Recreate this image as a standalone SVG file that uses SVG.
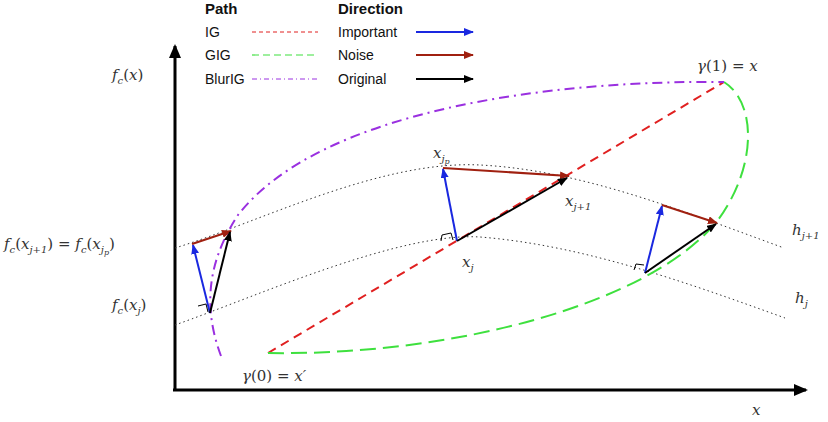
<svg xmlns="http://www.w3.org/2000/svg" width="828" height="422" viewBox="0 0 828 422">
<style>
.lg{font-family:"Liberation Sans",Arial,sans-serif;font-size:14px;fill:#111}
.lgb{font-family:"Liberation Sans",Arial,sans-serif;font-size:15px;font-weight:bold;fill:#111}
.m{font-family:"DejaVu Serif","Liberation Serif",serif;font-style:italic;font-size:15px;fill:#333}
.ms{font-family:"DejaVu Serif","Liberation Serif",serif;font-style:italic;font-size:10px;fill:#333}
.r{font-style:normal}
.dot{fill:none;stroke:#333;stroke-width:1;stroke-dasharray:1.5 3}
.ig{fill:none;stroke:#e02020;stroke-width:2;stroke-dasharray:9 6}
.gig{fill:none;stroke:#3ee03e;stroke-width:2;stroke-dasharray:16 7}
.blur{fill:none;stroke:#9a30e0;stroke-width:2;stroke-dasharray:10 5 2 5}
.bl{stroke:#1a28e0;stroke-width:2;marker-end:url(#mb)}
.br{stroke:#a02010;stroke-width:2;marker-end:url(#mr)}
.bk{stroke:#000;stroke-width:2;marker-end:url(#mk)}
.ra{fill:none;stroke:#000;stroke-width:1}
</style>
<defs>
<marker id="mb" markerWidth="10" markerHeight="8" refX="9" refY="4" orient="auto" markerUnits="userSpaceOnUse"><path d="M0,0L10,4L0,8z" fill="#1a28e0"/></marker>
<marker id="mr" markerWidth="10" markerHeight="8" refX="9" refY="4" orient="auto" markerUnits="userSpaceOnUse"><path d="M0,0L10,4L0,8z" fill="#a02010"/></marker>
<marker id="mk" markerWidth="10" markerHeight="8" refX="9" refY="4" orient="auto" markerUnits="userSpaceOnUse"><path d="M0,0L10,4L0,8z" fill="#000"/></marker>
<marker id="ax" markerWidth="14" markerHeight="12" refX="12" refY="6" orient="auto" markerUnits="userSpaceOnUse"><path d="M0,0L14,6L0,12z" fill="#000"/></marker>
</defs>
<rect width="828" height="422" fill="#fff"/>
<g id="legend">
<text class="lgb" x="205" y="14">Path</text>
<text class="lgb" x="338" y="14">Direction</text>
<text class="lg" x="205" y="37">IG</text>
<text class="lg" x="205" y="60">GIG</text>
<text class="lg" x="205" y="84">BlurIG</text>
<line x1="252" y1="32" x2="318" y2="32" stroke="#e02020" stroke-width="1" stroke-dasharray="4 3"/>
<line x1="252" y1="55" x2="318" y2="55" stroke="#3ee03e" stroke-width="1.2" stroke-dasharray="7 4"/>
<line x1="252" y1="79" x2="318" y2="79" stroke="#9a30e0" stroke-width="1" stroke-dasharray="5 3 1 3"/>
<text class="lg" x="338" y="37">Important</text>
<text class="lg" x="338" y="60">Noise</text>
<text class="lg" x="338" y="84">Original</text>
<line class="bl" x1="416" y1="32" x2="473" y2="32"/>
<line class="br" x1="416" y1="55" x2="473" y2="55"/>
<line class="bk" x1="416" y1="79" x2="473" y2="79"/>
</g>
<g id="axes">
<line x1="175" y1="391" x2="175" y2="46" stroke="#000" stroke-width="3" marker-end="url(#ax)"/>
<line x1="173" y1="390" x2="806" y2="390" stroke="#000" stroke-width="3" marker-end="url(#ax)"/>
</g>
<g id="connectors">
<path class="dot" d="M175,248 C260,222 380,160 480,165 C580,170 680,210 784,248"/>
<path class="dot" d="M175,325 C260,295 400,232 480,237 C580,245 680,280 785,318"/>
<path class="ig" d="M268,353 L724,82"/>
<path class="gig" d="M268,353 C450,356 650,305 718,220 C758,165 756,102 724,82"/>
<path class="blur" d="M221,356 C200,300 212,255 238,215 C320,110 550,80 724,82"/>
<line class="bl" x1="210" y1="313" x2="193" y2="245"/>
<line class="br" x1="192" y1="244" x2="231" y2="231"/>
<line class="bk" x1="210" y1="313" x2="230" y2="232"/>
<path class="ra" d="M198,306 L206,304 L208,312"/>
<line class="bl" x1="457" y1="241" x2="443" y2="169"/>
<line class="br" x1="443" y1="168" x2="569" y2="176"/>
<line class="bk" x1="457" y1="241" x2="567" y2="178"/>
<path class="ra" d="M441,241 L442,235 L451,233 L453,240"/>
<line class="bl" x1="645" y1="273" x2="662" y2="206"/>
<line class="br" x1="662" y1="205" x2="717" y2="223"/>
<line class="bk" x1="645" y1="273" x2="716" y2="224"/>
<path class="ra" d="M634,270 L636,264 L644,265"/>
</g>
<g id="labels">
<text class="m" x="112" y="80">f<tspan class="ms" dy="4">c</tspan><tspan dy="-4" class="r">(</tspan>x<tspan class="r">)</tspan></text>
<text class="m" x="4" y="249">f<tspan class="ms" dy="4">c</tspan><tspan dy="-4" class="r">(</tspan>x<tspan class="ms" dy="4">j+1</tspan><tspan dy="-4" class="r">) = </tspan>f<tspan class="ms" dy="4">c</tspan><tspan dy="-4" class="r">(</tspan>x<tspan class="ms" dy="4">j<tspan font-size="8" dy="2">p</tspan></tspan><tspan dy="-6" class="r">)</tspan></text>
<text class="m" x="112" y="310">f<tspan class="ms" dy="4">c</tspan><tspan dy="-4" class="r">(</tspan>x<tspan class="ms" dy="4">j</tspan><tspan dy="-4" class="r">)</tspan></text>
<text class="m" x="242" y="381">γ<tspan class="r">(0) = </tspan>x′</text>
<text class="m" x="697" y="71">γ<tspan class="r">(1) = </tspan>x</text>
<text class="m" x="433" y="158">x<tspan class="ms" dy="4">j<tspan font-size="8" dy="2">p</tspan></tspan></text>
<text class="m" x="565" y="206">x<tspan class="ms" dy="4">j+1</tspan></text>
<text class="m" x="462" y="267">x<tspan class="ms" dy="4">j</tspan></text>
<text class="m" x="792" y="235">h<tspan class="ms" dy="4">j+1</tspan></text>
<text class="m" x="795" y="303">h<tspan class="ms" dy="4">j</tspan></text>
<text class="m" x="752" y="415">x</text>
</g>
</svg>
